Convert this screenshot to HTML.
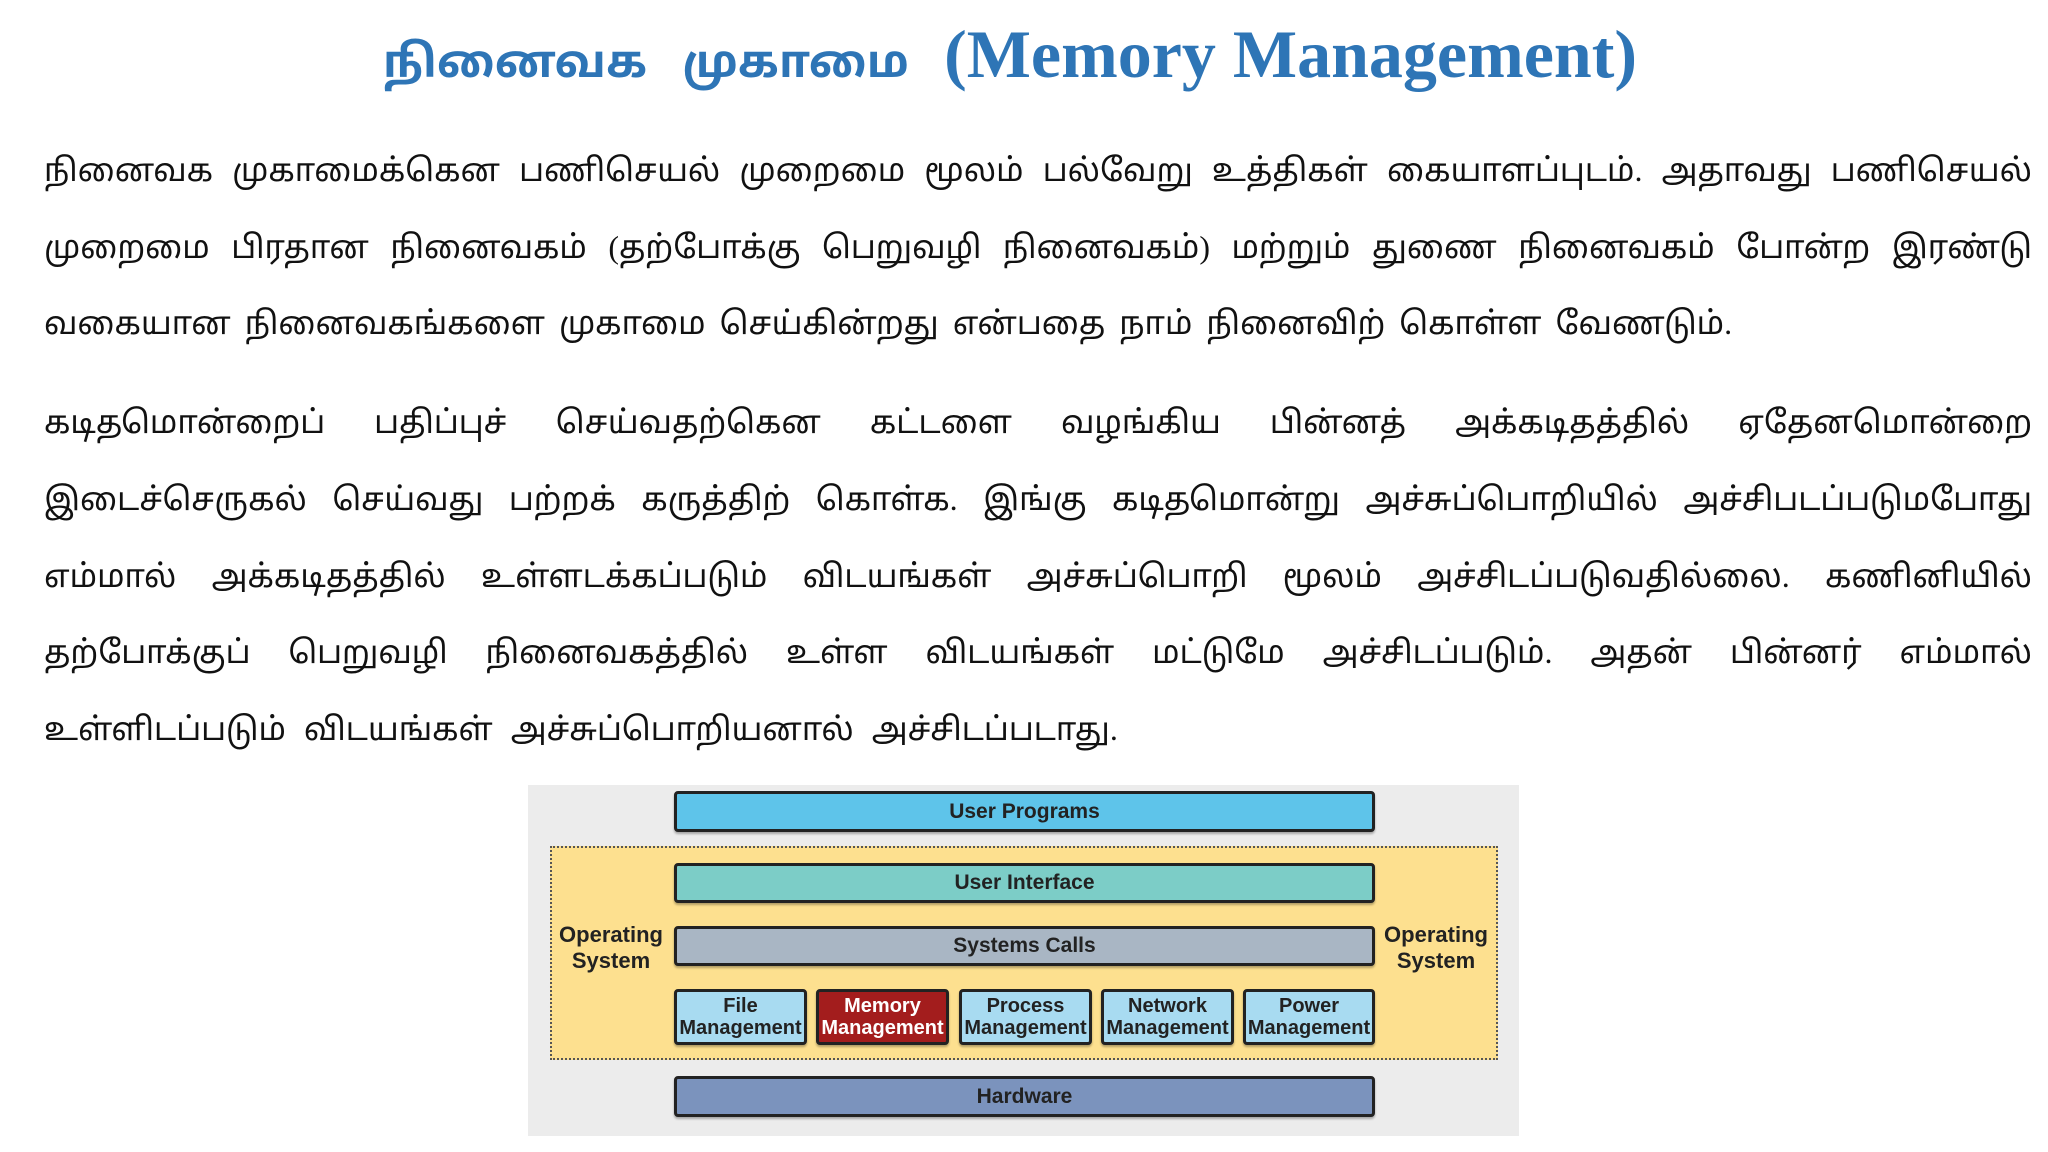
<!DOCTYPE html>
<html><head><meta charset="utf-8"><style>
body{margin:0;width:2048px;height:1152px;background:#fff;position:relative;overflow:hidden;font-family:"Liberation Serif","Noto Sans Tamil","Lohit Tamil",serif;}
.t{position:absolute;left:-14px;width:2048px;text-align:center;top:14px;height:80px;line-height:80px;font-size:45px;font-weight:bold;color:#2e75b6;white-space:nowrap;word-spacing:24px;}
.l{position:absolute;left:44px;width:1988px;font-size:32px;line-height:40px;color:#111;text-align:justify;text-align-last:justify;white-space:nowrap;}
.l.e{text-align-last:left;}
.b{position:absolute;box-sizing:border-box;border:3px solid #222;border-radius:4px;display:flex;align-items:center;justify-content:center;text-align:center;font-family:"Liberation Sans Narrow","Liberation Sans",sans-serif;font-weight:bold;font-size:21px;color:#222;line-height:22px;box-shadow:0 2px 2px rgba(0,0,0,.3);}
.s{font-size:20px;}
.os{position:absolute;font-family:"Liberation Sans Narrow","Liberation Sans",sans-serif;font-weight:bold;font-size:22px;line-height:26px;text-align:center;color:#222;}
</style></head><body>
<div class="t">நினைவக முகாமை <span style="font-size:68px;word-spacing:0">(Memory Management)</span></div>
<div class="l" style="top:150px">நினைவக முகாமைக்கென பணிசெயல் முறைமை மூலம் பல்வேறு உத்திகள் கையாளப்புடம். அதாவது பணிசெயல்</div>
<div class="l" style="top:227px">முறைமை பிரதான நினைவகம் (தற்போக்கு பெறுவழி நினைவகம்) மற்றும் துணை நினைவகம் போன்ற இரண்டு</div>
<div class="l e" style="top:303px;word-spacing:6px">வகையான நினைவகங்களை முகாமை செய்கின்றது என்பதை நாம் நினைவிற் கொள்ள வேணடும்.</div>
<div class="l" style="top:402px">கடிதமொன்றைப் பதிப்புச் செய்வதற்கென கட்டளை வழங்கிய பின்னத் அக்கடிதத்தில் ஏதேனமொன்றை</div>
<div class="l" style="top:479px">இடைச்செருகல் செய்வது பற்றக் கருத்திற் கொள்க. இங்கு கடிதமொன்று அச்சுப்பொறியில் அச்சிபடப்படுமபோது</div>
<div class="l" style="top:556px">எம்மால் அக்கடிதத்தில் உள்ளடக்கப்படும் விடயங்கள் அச்சுப்பொறி மூலம் அச்சிடப்படுவதில்லை. கணினியில்</div>
<div class="l" style="top:632px">தற்போக்குப் பெறுவழி நினைவகத்தில் உள்ள விடயங்கள் மட்டுமே அச்சிடப்படும். அதன் பின்னர் எம்மால்</div>
<div class="l e" style="top:709px;word-spacing:10px">உள்ளிடப்படும் விடயங்கள் அச்சுப்பொறியனால் அச்சிடப்படாது.</div>

<div style="position:absolute;left:528px;top:785px;width:991px;height:351px;background:#ececec;"></div>
<div style="position:absolute;left:550px;top:846px;width:948px;height:214px;box-sizing:border-box;background:#fde08f;border:2px dotted #555;"></div>
<div class="b" style="left:674px;top:791px;width:701px;height:41px;background:#5ec4ea;">User Programs</div>
<div class="b" style="left:674px;top:863px;width:701px;height:40px;background:#7ccdc7;">User Interface</div>
<div class="b" style="left:674px;top:926px;width:701px;height:40px;background:#a9b6c4;">Systems Calls</div>
<div class="b s" style="left:674px;top:989px;width:133px;height:56px;background:#a8dbf1;">File<br>Management</div>
<div class="b s" style="left:816px;top:989px;width:133px;height:56px;background:#a31d1d;color:#fff;">Memory<br>Management</div>
<div class="b s" style="left:959px;top:989px;width:133px;height:56px;background:#a8dbf1;">Process<br>Management</div>
<div class="b s" style="left:1101px;top:989px;width:133px;height:56px;background:#a8dbf1;">Network<br>Management</div>
<div class="b s" style="left:1243px;top:989px;width:132px;height:56px;background:#a8dbf1;">Power<br>Management</div>
<div class="b" style="left:674px;top:1076px;width:701px;height:41px;background:#7b93bd;">Hardware</div>
<div class="os" style="left:551px;top:922px;width:120px;">Operating<br>System</div>
<div class="os" style="left:1376px;top:922px;width:120px;">Operating<br>System</div>
</body></html>
